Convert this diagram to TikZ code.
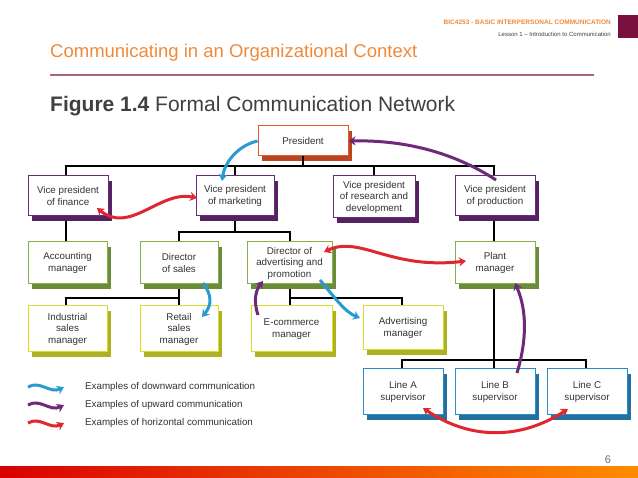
\documentclass[tikz,border=0pt]{standalone}
\usepackage{fontspec}
\setmainfont{Liberation Sans}
\usetikzlibrary{arrows.meta}
\definecolor{cpur}{HTML}{6A2C7A}
\definecolor{cgrn}{HTML}{86B04A}
\definecolor{cyel}{HTML}{D8DE2A}
\definecolor{cblu}{HTML}{2A8CC8}
\definecolor{cora}{HTML}{E8562A}
\definecolor{ared}{HTML}{E0262E}
\definecolor{ablu}{HTML}{2A9AD4}
\definecolor{apur}{HTML}{6E2A78}
\definecolor{ttl}{HTML}{F08A3A}
\definecolor{maroon}{HTML}{7A1040}
\begin{document}
\begin{tikzpicture}[x=1pt,y=-1pt,
  bx/.style={draw=#1,line width=1pt,fill=white,align=center,font=\fontsize{9.8}{11.5}\selectfont,text=black!80,inner sep=0pt},
  arr/.style={line width=3pt,-{Stealth[length=7pt,width=9pt]},#1},
  darr/.style={line width=3pt,{Stealth[length=7pt,width=9pt]}-{Stealth[length=7pt,width=9pt]},#1},
  ln/.style={line width=1.8pt,black}]
\useasboundingbox (0,0) rectangle (638,478);
\fill[white] (0,0) rectangle (638,478);
% header
\node[anchor=east,font=\bfseries\fontsize{6.5}{7}\selectfont,text=ttl,inner sep=0] (h1) at (611,22) {BIC4253 - BASIC INTERPERSONAL COMMUNICATION};
\node[anchor=east,font=\fontsize{6}{7}\selectfont,text=black!75,inner sep=0] (h2) at (611,34) {Lesson 1 – Introduction to Communication};
\fill[maroon] (618,15) rectangle (638,38);
\node[anchor=west,font=\fontsize{18.5}{20}\selectfont,text=ttl,inner sep=0] (t) at (50,53) {Communicating in an Organizational Context};
\draw[line width=2pt,color=maroon!65] (50,75) -- (594,75);
\node[anchor=west,font=\fontsize{21}{23}\selectfont,text=black!75,inner sep=0] (f) at (50,106) {\textbf{Figure 1.4} Formal Communication Network};
\node[font=\fontsize{11}{12}\selectfont,text=black!55,inner sep=0] (pg) at (608,460) {6};
\shade[left color=red!85!black,right color=orange!90!yellow] (0,467) rectangle (638,478);
% boxes with shadows
\newcommand{\bxx}[7]{% name, x1,y1,x2,y2,color,text
  \fill[#6!80!black] (#2+4,#3+5) rectangle (#4+4,#5+5);
  \node[bx=#6,minimum width=#4-#2,minimum height=#5-#3] (#1) at ({(#2+#4)/2},{(#3+#5)/2}) {#7};}
\bxx{pres}{258}{126}{348}{156}{cora}{President}
% lines
\draw[ln] (303,156) -- (303,166);
\draw[ln] (66,176) -- (66,166) -- (494,166) -- (494,176);
\draw[ln] (235,166) -- (235,176); \draw[ln] (374,166) -- (374,176);
\draw[ln] (66,216) -- (66,242);
\draw[ln] (235,216) -- (235,232); \draw[ln] (179,242) -- (179,232) -- (290,232) -- (290,242);
\draw[ln] (494,216) -- (494,242);
\draw[ln] (179,284) -- (179,298); \draw[ln] (66,306) -- (66,298) -- (179,298) -- (179,306);
\draw[ln] (290,284) -- (290,298); \draw[ln] (290,306) -- (290,298) -- (402,298) -- (402,306);
\draw[ln] (494,284) -- (494,360); \draw[ln] (402,369) -- (402,360) -- (586,360) -- (586,369);
\draw[ln] (494,360) -- (494,369);
\bxx{vpf}{28}{176}{108}{216}{cpur}{Vice president\\of finance}
\bxx{vpm}{196}{176}{274}{216}{cpur}{Vice president\\of marketing}
\bxx{vpr}{333}{176}{415}{218}{cpur}{Vice president\\of research and\\development}
\bxx{vpp}{455}{176}{535}{216}{cpur}{Vice president\\of production}
\bxx{acc}{28}{242}{107}{284}{cgrn}{Accounting\\manager}
\bxx{ds}{140}{242}{218}{284}{cgrn}{Director\\of sales}
\bxx{da}{247}{242}{332}{284}{cgrn}{Director of\\advertising and\\promotion}
\bxx{pm}{455}{242}{535}{284}{cgrn}{Plant\\manager}
\bxx{ism}{28}{306}{107}{352}{cyel}{Industrial\\sales\\manager}
\bxx{rsm}{140}{306}{218}{352}{cyel}{Retail\\sales\\manager}
\bxx{ecm}{251}{306}{332}{352}{cyel}{E-commerce\\manager}
\bxx{adm}{363}{306}{443}{350}{cyel}{Advertising\\manager}
\bxx{la}{363}{369}{443}{415}{cblu}{Line A\\supervisor}
\bxx{lb}{455}{369}{535}{415}{cblu}{Line B\\supervisor}
\bxx{lc}{547}{369}{627}{415}{cblu}{Line C\\supervisor}
% arrows
\draw[arr=ablu] (pres.west) .. controls (240,145) and (225,160) .. (222,181);
\draw[darr=ared] (97,208) .. controls (130,235) and (160,190) .. (197,198);
\draw[arr=apur] (496,180) .. controls (450,150) and (400,140) .. (pres.east);
\draw[darr=ared] (324,252) .. controls (360,235) and (390,270) .. (466,261);
\draw[arr=ablu] (203,283) .. controls (212,295) and (212,305) .. (202,317);
\draw[arr=apur] (258,315) .. controls (253,300) and (256,290) .. (263,281);
\draw[arr=ablu] (320,280) .. controls (335,298) and (345,312) .. (360,318);
\draw[arr=apur] (517,373) .. controls (527,340) and (527,310) .. (515,283);
\draw[darr=ared] (423,408) .. controls (470,440) and (520,440) .. (568,409);
% legend
\coordinate (l1a) at (28,387); \coordinate (l1b) at (64,387);
\coordinate (l2a) at (28,405); \coordinate (l2b) at (64,405);
\coordinate (l3a) at (28,423); \coordinate (l3b) at (64,423);
\draw[arr=ablu] (l1a) .. controls (40,380) and (50,394) .. (l1b);
\draw[arr=apur] (l2a) .. controls (40,398) and (50,412) .. (l2b);
\draw[arr=ared] (l3a) .. controls (40,416) and (50,430) .. (l3b);
\tikzset{lg/.style={anchor=west,font=\fontsize{9.8}{11}\selectfont,text=black!80,inner sep=0}}
\node[lg] (g1) at (85,387) {Examples of downward communication};
\node[lg] (g2) at (85,405) {Examples of upward communication};
\node[lg] (g3) at (85,423) {Examples of horizontal communication};
\end{tikzpicture}
\end{document}
